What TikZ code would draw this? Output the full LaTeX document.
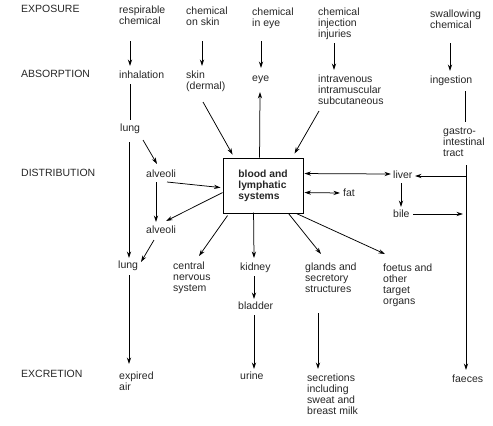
\documentclass[tikz,border=0pt]{standalone}
\usepackage{fontspec}
\setmainfont{Liberation Sans}
\usetikzlibrary{arrows.meta}
\tikzset{
  lbl/.style={anchor=north west, inner sep=0pt, align=left, yshift=7.7pt,
    font=\fontsize{10.5}{11}\selectfont, text=black!85},
  boxn/.style={draw, line width=0.9pt, minimum width=80pt, minimum height=55pt, inner sep=0pt,
    align=left, font=\bfseries\fontsize{10.3}{11}\selectfont, text=black!85},
  arr/.style={line width=0.75pt, -{Stealth[length=6.5pt,width=4.2pt]}},
  darr/.style={line width=0.75pt, {Stealth[length=6.5pt,width=4.2pt]}-{Stealth[length=6.5pt,width=4.2pt]}},
  ln/.style={line width=0.75pt}
}
\begin{document}
\begin{tikzpicture}[x=1pt,y=-1pt]
\useasboundingbox (0,0) rectangle (493,426);
% stage labels
\node[lbl] (expo) at (21,12) {\strut EXPOSURE};
\node[lbl] (absorp) at (21,77) {\strut ABSORPTION};
\node[lbl] (distr) at (21,176) {\strut DISTRIBUTION};
\node[lbl] (excr) at (21,377) {\strut EXCRETION};
% exposure
\node[lbl] (resp) at (119,13) {\strut respirable\\chemical};
\node[lbl] (skinc) at (186,14) {\strut chemical\\on skin};
\node[lbl] (eyec) at (252,15) {\strut chemical\\in eye};
\node[lbl] (injc) at (318,15) {\strut chemical\\injection\\injuries};
\node[lbl] (swal) at (430,17) {\strut swallowing\\chemical};
% absorption
\node[lbl] (inh) at (119,78) {\strut inhalation};
\node[lbl] (skin) at (186,78) {\strut skin\\(dermal)};
\node[lbl] (eye) at (252,81) {\strut eye};
\node[lbl] (iv) at (318,82) {\strut intravenous\\intramuscular\\subcutaneous};
\node[lbl] (ing) at (430,83) {\strut ingestion};
\node[lbl] (lungA) at (120,131) {\strut lung};
\node[lbl] (gastro) at (443,134) {\strut gastro-\\intestinal\\tract};
% distribution
\node[lbl] (alvA) at (146,177) {\strut alveoli};
\node[boxn] (box) at (263,185.5) {\strut blood and\\lymphatic\\systems};
\node[lbl] (liver) at (393,178) {\strut liver};
\node[lbl] (fat) at (343,196) {\strut fat};
\node[lbl] (bile) at (393,217) {\strut bile};
\node[lbl] (alvB) at (146,233) {\strut alveoli};
\node[lbl] (lungB) at (118,268) {\strut lung};
\node[lbl] (cns) at (173,269) {\strut central\\nervous\\system};
\node[lbl] (kidney) at (240,270) {\strut kidney};
\node[lbl] (glands) at (305,270) {\strut glands and\\secretory\\structures};
\node[lbl] (foetus) at (383,271) {\strut foetus and\\other\\target\\organs};
\node[lbl] (bladder) at (238,309) {\strut bladder};
% excretion
\node[lbl] (expired) at (119,379) {\strut expired\\air};
\node[lbl] (urine) at (240,379) {\strut urine};
\node[lbl] (secr) at (307,381) {\strut secretions\\including\\sweat and\\breast milk};
\node[lbl] (faeces) at (452,382) {\strut faeces};
% connectors: exposure -> absorption
\draw[arr] ([shift={(11,35.7)}]resp.north west) -- ([shift={(11,-4.3)}]inh.north west);
\draw[arr] ([shift={(16,34.7)}]skinc.north west) -- ([shift={(16,-4.3)}]skin.north west);
\draw[arr] ([shift={(9,33.7)}]eyec.north west) -- ([shift={(9,-5.3)}]eye.north west);
\draw[arr] ([shift={(16,35.7)}]injc.north west) -- ([shift={(16,-4.3)}]iv.north west);
\draw[arr] ([shift={(20,33.7)}]swal.north west) -- ([shift={(20,-4.3)}]ing.north west);
% absorption
\draw[ln] ([shift={(11,13.7)}]inh.north west) -- ([shift={(10,-3.3)}]lungA.north west);
\draw[ln] ([shift={(35,15.7)}]ing.north west) -- ([shift={(22,-4.3)}]gastro.north west);
\draw[arr] ([shift={(17,31.7)}]skin.north west) -- ([shift={(10,-3)}]box.north west);
\draw[arr] ([shift={(37,0)}]box.north west) -- ([shift={(8,18.7)}]eye.north west);
\draw[arr] ([shift={(1,36.7)}]iv.north west) -- ([shift={(72,-4)}]box.north west);
% lung / alveoli
\draw[arr] ([shift={(23,16.7)}]lungA.north west) -- ([shift={(11,-5.3)}]alvA.north west);
\draw[arr] ([shift={(9,18.7)}]lungA.north west) -- ([shift={(11,-2.3)}]lungB.north west);
\draw[arr] ([shift={(21,12.7)}]alvA.north west) -- ([shift={(-2,30)}]box.north west);
\draw[arr] ([shift={(0,35)}]box.north west) -- ([shift={(20,-4.3)}]alvB.north west);
\draw[arr] ([shift={(10,12.7)}]alvA.north west) -- ([shift={(10,-3.3)}]alvB.north west);
\draw[arr] ([shift={(8,14.7)}]alvB.north west) -- ([shift={(23,1.7)}]lungB.north west);
\draw[arr] ([shift={(11,14.7)}]lungB.north west) -- ([shift={(10,-7.3)}]expired.north west);
% blood system outputs
\draw[arr] ([shift={(5,58)}]box.north west) -- ([shift={(26,-5.3)}]cns.north west);
\draw[darr] ([shift={(1,16)}]box.north east) -- ([shift={(-2,3.7)}]liver.north west);
\draw[darr] ([shift={(1,35)}]box.north east) -- ([shift={(-3,4.7)}]fat.north west);
\draw[arr] ([shift={(31,55)}]box.north west) -- ([shift={(14,-4.3)}]kidney.north west);
\draw[arr] ([shift={(66,56)}]box.north west) -- ([shift={(16,-8.3)}]glands.north west);
\draw[arr] ([shift={(74,56)}]box.north west) -- ([shift={(2,-9.3)}]foetus.north west);
% gastro-intestinal
\draw[arr] ([shift={(23,38.7)}]gastro.north west) -- ([shift={(14,-4.3)}]faeces.north west);
\draw[arr] ([shift={(23,49.7)}]gastro.north west) -- ([shift={(22,5.7)}]liver.north west);
\draw[arr] ([shift={(8,12.7)}]liver.north west) -- ([shift={(8,-2.3)}]bile.north west);
\draw[arr] ([shift={(20,4.7)}]bile.north west) -- ([shift={(20,87.7)}]gastro.north west);
% excretion
\draw[arr] ([shift={(14,13.7)}]kidney.north west) -- ([shift={(16,-2.3)}]bladder.north west);
\draw[arr] ([shift={(16,13.7)}]bladder.north west) -- ([shift={(14,-2.3)}]urine.north west);
\draw[arr] ([shift={(13,50.7)}]glands.north west) -- ([shift={(11,-4.3)}]secr.north west);
\end{tikzpicture}
\end{document}
